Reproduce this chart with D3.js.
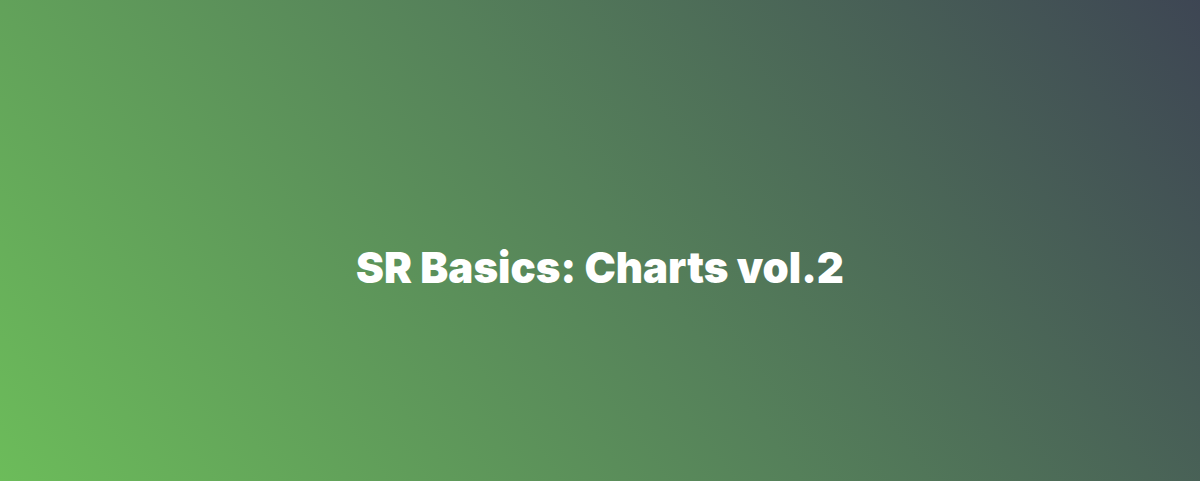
<!DOCTYPE html>
<html>
<head>
<meta charset="utf-8">
<script src="https://cdn.jsdelivr.net/npm/d3@7"></script>
<style>
  html, body { margin: 0; padding: 0; overflow: hidden; }
</style>
</head>
<body>
<div id="banner"></div>
<script>
// banner content
var titleText = ["SR Basics: Charts vol.2"];
var stopOffsets = [0, 0.5, 1];
var stopColors = ["#6cbc5a", "#55805a", "#3c4253"];

var width = 1200,
  height = 481;

var svg = d3.select("#banner")
  .append("svg")
  .attr("width", width)
  .attr("height", height);

// diagonal gradient, bottom-left (green) to top-right (slate)
var grad = svg.append("defs")
  .append("linearGradient")
  .attr("id", "bg")
  .attr("gradientUnits", "userSpaceOnUse")
  .attr("x1", 0)
  .attr("y1", height)
  .attr("x2", 1043)
  .attr("y2", -282);

grad.selectAll("stop")
  .data(stopOffsets)
  .enter()
  .append("stop")
  .attr("offset", function(d) { return d; })
  .attr("stop-color", function(d, i) { return stopColors[i]; });

svg.append("rect")
  .attr("width", width)
  .attr("height", height)
  .attr("fill", "url(#bg)");

svg.selectAll("text.title")
  .data(titleText)
  .enter()
  .append("text")
  .attr("class", "title")
  .attr("x", width / 2)
  .attr("y", 283)
  .attr("text-anchor", "middle")
  .attr("textLength", 488)
  .attr("lengthAdjust", "spacingAndGlyphs")
  .style("font-family", "Inter, 'Open Sans', sans-serif")
  .style("font-weight", 900)
  .style("font-size", "43px")
  .style("fill", "#ffffff")
  .text(function(d) { return d; });
</script>
</body>
</html>
